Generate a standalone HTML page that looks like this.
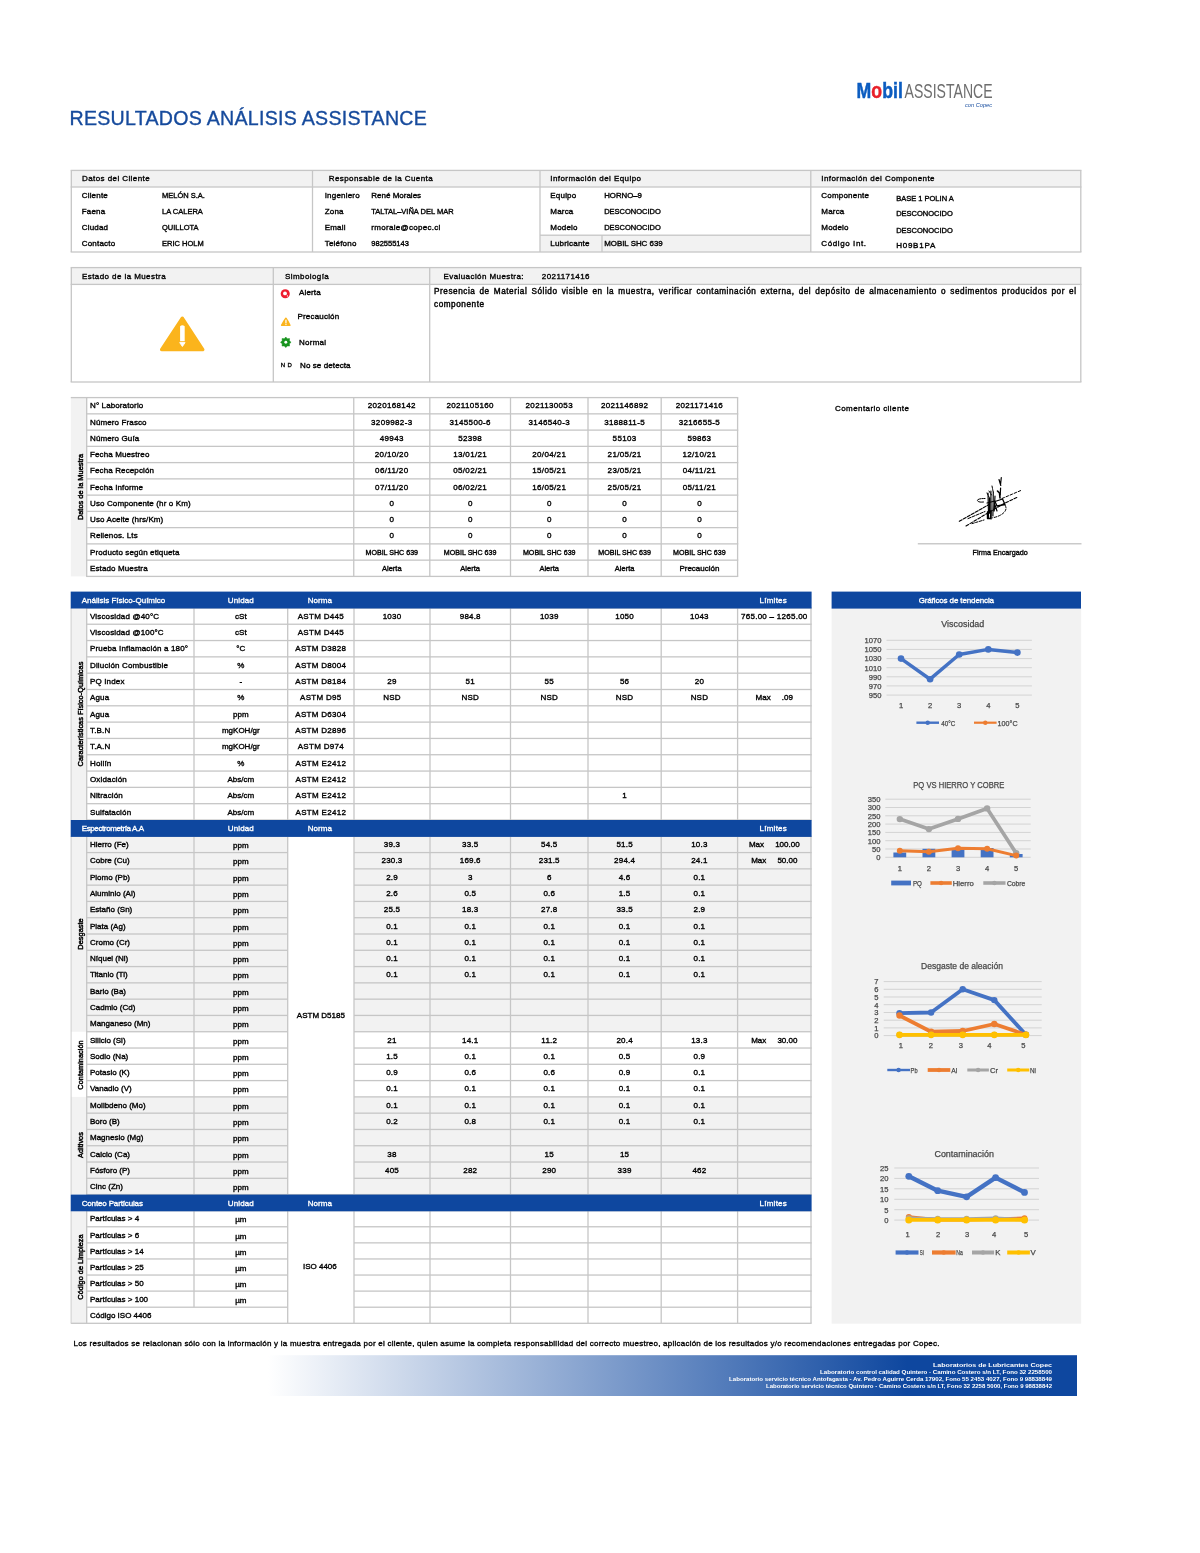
<!DOCTYPE html>
<html lang="es"><head><meta charset="utf-8"><title>Resultados Análisis Assistance</title>
<style>
html,body{margin:0;padding:0;background:#fff;}
body{width:1200px;height:1553px;position:relative;overflow:hidden;font-family:"Liberation Sans",sans-serif;color:#000;}
.a{position:absolute;}
.t{position:absolute;white-space:pre;font-size:8px;line-height:16px;height:16px;color:#000;-webkit-text-stroke:0.36px #000;}
.b{letter-spacing:0.42px;-webkit-text-stroke:0.34px #000;}
.h{letter-spacing:0.42px;-webkit-text-stroke:0.34px #000;}
.w{color:#fff;-webkit-text-stroke:0.34px #fff;}
.v{width:200px;text-align:center;transform:rotate(-90deg);font-size:7.4px;letter-spacing:0;-webkit-text-stroke:0.45px #000;}
.l{letter-spacing:0.2px;}
.g{color:#595959;-webkit-text-stroke:0;}
svg{position:absolute;overflow:visible;}
</style></head><body><div id="pg" style="position:absolute;left:0;top:0;width:1200px;height:1553px;will-change:transform;">

<svg style="left:0;top:0" width="1200" height="1553" viewBox="0 0 1200 1553" shape-rendering="geometricPrecision"><rect x="71.30" y="170.40" width="1009.50" height="16.60" fill="#f2f2f2"/><rect x="540.00" y="235.20" width="270.80" height="16.80" fill="#f2f2f2"/><rect x="70.65" y="169.75" width="1010.80" height="1.30" fill="#c6c6c6"/><rect x="70.65" y="186.35" width="1010.80" height="1.30" fill="#c6c6c6"/><rect x="70.65" y="251.35" width="1010.80" height="1.30" fill="#c6c6c6"/><rect x="70.65" y="170.40" width="1.30" height="81.60" fill="#c6c6c6"/><rect x="311.85" y="170.40" width="1.30" height="81.60" fill="#c6c6c6"/><rect x="539.35" y="170.40" width="1.30" height="81.60" fill="#c6c6c6"/><rect x="810.15" y="170.40" width="1.30" height="81.60" fill="#c6c6c6"/><rect x="1080.15" y="170.40" width="1.30" height="81.60" fill="#c6c6c6"/><rect x="540.00" y="234.55" width="270.80" height="1.30" fill="#c6c6c6"/><rect x="601.35" y="235.20" width="1.30" height="16.80" fill="#c6c6c6"/><rect x="71.30" y="267.60" width="1009.50" height="16.80" fill="#f2f2f2"/><rect x="70.65" y="266.95" width="1010.80" height="1.30" fill="#c6c6c6"/><rect x="70.65" y="283.75" width="1010.80" height="1.30" fill="#c6c6c6"/><rect x="70.65" y="381.35" width="1010.80" height="1.30" fill="#c6c6c6"/><rect x="70.65" y="267.60" width="1.30" height="114.40" fill="#c6c6c6"/><rect x="272.65" y="267.60" width="1.30" height="114.40" fill="#c6c6c6"/><rect x="429.05" y="267.60" width="1.30" height="114.40" fill="#c6c6c6"/><rect x="1080.15" y="267.60" width="1.30" height="114.40" fill="#c6c6c6"/><rect x="70.80" y="397.60" width="15.90" height="178.80" fill="#f2f2f2"/><rect x="70.80" y="396.95" width="667.45" height="1.30" fill="#c6c6c6"/><rect x="86.05" y="413.20" width="652.20" height="1.30" fill="#c6c6c6"/><rect x="86.05" y="429.46" width="652.20" height="1.30" fill="#c6c6c6"/><rect x="86.05" y="445.71" width="652.20" height="1.30" fill="#c6c6c6"/><rect x="86.05" y="461.97" width="652.20" height="1.30" fill="#c6c6c6"/><rect x="86.05" y="478.22" width="652.20" height="1.30" fill="#c6c6c6"/><rect x="86.05" y="494.48" width="652.20" height="1.30" fill="#c6c6c6"/><rect x="86.05" y="510.73" width="652.20" height="1.30" fill="#c6c6c6"/><rect x="86.05" y="526.99" width="652.20" height="1.30" fill="#c6c6c6"/><rect x="86.05" y="543.24" width="652.20" height="1.30" fill="#c6c6c6"/><rect x="86.05" y="559.50" width="652.20" height="1.30" fill="#c6c6c6"/><rect x="86.05" y="575.75" width="652.20" height="1.30" fill="#c6c6c6"/><rect x="86.05" y="397.60" width="1.30" height="178.80" fill="#c6c6c6"/><rect x="353.10" y="397.60" width="1.30" height="178.80" fill="#c6c6c6"/><rect x="429.15" y="397.60" width="1.30" height="178.80" fill="#c6c6c6"/><rect x="509.85" y="397.60" width="1.30" height="178.80" fill="#c6c6c6"/><rect x="587.35" y="397.60" width="1.30" height="178.80" fill="#c6c6c6"/><rect x="660.55" y="397.60" width="1.30" height="178.80" fill="#c6c6c6"/><rect x="736.95" y="397.60" width="1.30" height="178.80" fill="#c6c6c6"/><rect x="917.80" y="543.20" width="163.70" height="1.20" fill="#bdbdbd"/><rect x="70.80" y="607.91" width="15.90" height="212.09" fill="#f2f2f2"/><rect x="70.80" y="836.29" width="740.20" height="195.44" fill="#f2f2f2"/><rect x="70.80" y="1096.88" width="740.20" height="97.72" fill="#f2f2f2"/><rect x="70.80" y="1210.69" width="15.90" height="112.61" fill="#f2f2f2"/><rect x="287.70" y="836.29" width="66.30" height="358.31" fill="#fff"/><rect x="86.05" y="607.26" width="725.60" height="1.30" fill="#c6c6c6"/><rect x="86.05" y="623.58" width="725.60" height="1.30" fill="#c6c6c6"/><rect x="86.05" y="639.89" width="725.60" height="1.30" fill="#c6c6c6"/><rect x="86.05" y="656.21" width="725.60" height="1.30" fill="#c6c6c6"/><rect x="86.05" y="672.52" width="725.60" height="1.30" fill="#c6c6c6"/><rect x="86.05" y="688.84" width="725.60" height="1.30" fill="#c6c6c6"/><rect x="86.05" y="705.15" width="725.60" height="1.30" fill="#c6c6c6"/><rect x="86.05" y="721.46" width="725.60" height="1.30" fill="#c6c6c6"/><rect x="86.05" y="737.78" width="725.60" height="1.30" fill="#c6c6c6"/><rect x="86.05" y="754.09" width="725.60" height="1.30" fill="#c6c6c6"/><rect x="86.05" y="770.41" width="725.60" height="1.30" fill="#c6c6c6"/><rect x="86.05" y="786.72" width="725.60" height="1.30" fill="#c6c6c6"/><rect x="86.05" y="803.04" width="725.60" height="1.30" fill="#c6c6c6"/><rect x="86.05" y="819.35" width="725.60" height="1.30" fill="#c6c6c6"/><rect x="86.05" y="835.64" width="725.60" height="1.30" fill="#c6c6c6"/><rect x="86.05" y="851.92" width="201.65" height="1.30" fill="#c6c6c6"/><rect x="354.00" y="851.92" width="457.65" height="1.30" fill="#c6c6c6"/><rect x="86.05" y="868.21" width="201.65" height="1.30" fill="#c6c6c6"/><rect x="354.00" y="868.21" width="457.65" height="1.30" fill="#c6c6c6"/><rect x="86.05" y="884.50" width="201.65" height="1.30" fill="#c6c6c6"/><rect x="354.00" y="884.50" width="457.65" height="1.30" fill="#c6c6c6"/><rect x="86.05" y="900.78" width="201.65" height="1.30" fill="#c6c6c6"/><rect x="354.00" y="900.78" width="457.65" height="1.30" fill="#c6c6c6"/><rect x="86.05" y="917.07" width="201.65" height="1.30" fill="#c6c6c6"/><rect x="354.00" y="917.07" width="457.65" height="1.30" fill="#c6c6c6"/><rect x="86.05" y="933.36" width="201.65" height="1.30" fill="#c6c6c6"/><rect x="354.00" y="933.36" width="457.65" height="1.30" fill="#c6c6c6"/><rect x="86.05" y="949.65" width="201.65" height="1.30" fill="#c6c6c6"/><rect x="354.00" y="949.65" width="457.65" height="1.30" fill="#c6c6c6"/><rect x="86.05" y="965.93" width="201.65" height="1.30" fill="#c6c6c6"/><rect x="354.00" y="965.93" width="457.65" height="1.30" fill="#c6c6c6"/><rect x="86.05" y="982.22" width="201.65" height="1.30" fill="#c6c6c6"/><rect x="354.00" y="982.22" width="457.65" height="1.30" fill="#c6c6c6"/><rect x="86.05" y="998.51" width="201.65" height="1.30" fill="#c6c6c6"/><rect x="354.00" y="998.51" width="457.65" height="1.30" fill="#c6c6c6"/><rect x="86.05" y="1014.79" width="201.65" height="1.30" fill="#c6c6c6"/><rect x="354.00" y="1014.79" width="457.65" height="1.30" fill="#c6c6c6"/><rect x="86.05" y="1031.08" width="201.65" height="1.30" fill="#c6c6c6"/><rect x="354.00" y="1031.08" width="457.65" height="1.30" fill="#c6c6c6"/><rect x="86.05" y="1047.37" width="201.65" height="1.30" fill="#c6c6c6"/><rect x="354.00" y="1047.37" width="457.65" height="1.30" fill="#c6c6c6"/><rect x="86.05" y="1063.65" width="201.65" height="1.30" fill="#c6c6c6"/><rect x="354.00" y="1063.65" width="457.65" height="1.30" fill="#c6c6c6"/><rect x="86.05" y="1079.94" width="201.65" height="1.30" fill="#c6c6c6"/><rect x="354.00" y="1079.94" width="457.65" height="1.30" fill="#c6c6c6"/><rect x="86.05" y="1096.23" width="201.65" height="1.30" fill="#c6c6c6"/><rect x="354.00" y="1096.23" width="457.65" height="1.30" fill="#c6c6c6"/><rect x="86.05" y="1112.52" width="201.65" height="1.30" fill="#c6c6c6"/><rect x="354.00" y="1112.52" width="457.65" height="1.30" fill="#c6c6c6"/><rect x="86.05" y="1128.80" width="201.65" height="1.30" fill="#c6c6c6"/><rect x="354.00" y="1128.80" width="457.65" height="1.30" fill="#c6c6c6"/><rect x="86.05" y="1145.09" width="201.65" height="1.30" fill="#c6c6c6"/><rect x="354.00" y="1145.09" width="457.65" height="1.30" fill="#c6c6c6"/><rect x="86.05" y="1161.38" width="201.65" height="1.30" fill="#c6c6c6"/><rect x="354.00" y="1161.38" width="457.65" height="1.30" fill="#c6c6c6"/><rect x="86.05" y="1177.66" width="201.65" height="1.30" fill="#c6c6c6"/><rect x="354.00" y="1177.66" width="457.65" height="1.30" fill="#c6c6c6"/><rect x="86.05" y="1193.95" width="725.60" height="1.30" fill="#c6c6c6"/><rect x="86.05" y="1210.04" width="725.60" height="1.30" fill="#c6c6c6"/><rect x="86.05" y="1226.12" width="201.65" height="1.30" fill="#c6c6c6"/><rect x="354.00" y="1226.12" width="457.65" height="1.30" fill="#c6c6c6"/><rect x="86.05" y="1242.21" width="201.65" height="1.30" fill="#c6c6c6"/><rect x="354.00" y="1242.21" width="457.65" height="1.30" fill="#c6c6c6"/><rect x="86.05" y="1258.30" width="201.65" height="1.30" fill="#c6c6c6"/><rect x="354.00" y="1258.30" width="457.65" height="1.30" fill="#c6c6c6"/><rect x="86.05" y="1274.39" width="201.65" height="1.30" fill="#c6c6c6"/><rect x="354.00" y="1274.39" width="457.65" height="1.30" fill="#c6c6c6"/><rect x="86.05" y="1290.47" width="201.65" height="1.30" fill="#c6c6c6"/><rect x="354.00" y="1290.47" width="457.65" height="1.30" fill="#c6c6c6"/><rect x="86.05" y="1306.56" width="201.65" height="1.30" fill="#c6c6c6"/><rect x="354.00" y="1306.56" width="457.65" height="1.30" fill="#c6c6c6"/><rect x="70.80" y="1322.65" width="740.85" height="1.30" fill="#c6c6c6"/><rect x="70.60" y="607.91" width="1.00" height="212.09" fill="#cfcfcf"/><rect x="86.05" y="607.91" width="1.30" height="212.09" fill="#c6c6c6"/><rect x="193.35" y="607.91" width="1.30" height="212.09" fill="#c6c6c6"/><rect x="287.05" y="607.91" width="1.30" height="212.09" fill="#c6c6c6"/><rect x="353.35" y="607.91" width="1.30" height="212.09" fill="#c6c6c6"/><rect x="429.35" y="607.91" width="1.30" height="212.09" fill="#c6c6c6"/><rect x="509.85" y="607.91" width="1.30" height="212.09" fill="#c6c6c6"/><rect x="587.35" y="607.91" width="1.30" height="212.09" fill="#c6c6c6"/><rect x="660.55" y="607.91" width="1.30" height="212.09" fill="#c6c6c6"/><rect x="736.95" y="607.91" width="1.30" height="212.09" fill="#c6c6c6"/><rect x="810.35" y="607.91" width="1.30" height="212.09" fill="#c6c6c6"/><rect x="70.60" y="836.29" width="1.00" height="358.31" fill="#cfcfcf"/><rect x="86.05" y="836.29" width="1.30" height="358.31" fill="#c6c6c6"/><rect x="193.35" y="836.29" width="1.30" height="358.31" fill="#c6c6c6"/><rect x="287.05" y="836.29" width="1.30" height="358.31" fill="#c6c6c6"/><rect x="353.35" y="836.29" width="1.30" height="358.31" fill="#c6c6c6"/><rect x="429.35" y="836.29" width="1.30" height="358.31" fill="#c6c6c6"/><rect x="509.85" y="836.29" width="1.30" height="358.31" fill="#c6c6c6"/><rect x="587.35" y="836.29" width="1.30" height="358.31" fill="#c6c6c6"/><rect x="660.55" y="836.29" width="1.30" height="358.31" fill="#c6c6c6"/><rect x="736.95" y="836.29" width="1.30" height="358.31" fill="#c6c6c6"/><rect x="810.35" y="836.29" width="1.30" height="358.31" fill="#c6c6c6"/><rect x="70.60" y="1210.69" width="1.00" height="112.61" fill="#cfcfcf"/><rect x="86.05" y="1210.69" width="1.30" height="112.61" fill="#c6c6c6"/><rect x="193.35" y="1210.69" width="1.30" height="96.52" fill="#c6c6c6"/><rect x="287.05" y="1210.69" width="1.30" height="112.61" fill="#c6c6c6"/><rect x="353.35" y="1210.69" width="1.30" height="112.61" fill="#c6c6c6"/><rect x="429.35" y="1210.69" width="1.30" height="112.61" fill="#c6c6c6"/><rect x="509.85" y="1210.69" width="1.30" height="112.61" fill="#c6c6c6"/><rect x="587.35" y="1210.69" width="1.30" height="112.61" fill="#c6c6c6"/><rect x="660.55" y="1210.69" width="1.30" height="112.61" fill="#c6c6c6"/><rect x="736.95" y="1210.69" width="1.30" height="112.61" fill="#c6c6c6"/><rect x="810.35" y="1210.69" width="1.30" height="112.61" fill="#c6c6c6"/><rect x="70.70" y="591.60" width="740.90" height="16.91" fill="#0e479f"/><rect x="70.70" y="820.00" width="740.90" height="16.89" fill="#0e479f"/><rect x="70.70" y="1194.60" width="740.90" height="16.69" fill="#0e479f"/><rect x="831.60" y="608.00" width="249.60" height="715.70" fill="#f2f2f2"/><rect x="831.60" y="591.60" width="249.40" height="17.00" fill="#0e479f"/><defs><linearGradient id="fg" x1="0" x2="1" y1="0" y2="0"><stop offset="0" stop-color="#fff"/><stop offset="0.79" stop-color="#0e479f"/><stop offset="1" stop-color="#0e479f"/></linearGradient></defs><rect x="268" y="1355.2" width="809" height="40.8" fill="url(#fg)"/></svg>
<div class="a" style="left:69.5px;top:105.1px;font-size:19.6px;line-height:26px;color:#164a9c;white-space:pre;letter-spacing:0.27px;-webkit-text-stroke:0.35px #164a9c;" id="title">RESULTADOS ANÁLISIS ASSISTANCE</div>
<svg style="left:850px;top:76px" width="160" height="40" viewBox="0 0 160 40">
<text x="6.6" y="22.3" font-family="Liberation Sans, sans-serif" font-weight="bold" font-size="22.5" fill="#0b5cc0" textLength="46.2" lengthAdjust="spacingAndGlyphs" stroke="#0b5cc0" stroke-width="0.5">M<tspan fill="#e8202a" stroke="#e8202a">o</tspan>bil</text>
<text x="54.6" y="22" font-family="Liberation Sans, sans-serif" font-size="19.4" fill="#6e6e6e" textLength="88" lengthAdjust="spacingAndGlyphs">ASSISTANCE</text>
<text x="115" y="30.5" font-family="Liberation Sans, sans-serif" font-style="italic" font-size="5.5" fill="#1a4fa0" textLength="27" lengthAdjust="spacingAndGlyphs">con Copec</text>
</svg>
<div class="t h" style="left:82.00px;top:171.30px;">Datos del Cliente</div>
<div class="t h" style="left:328.70px;top:171.30px;">Responsable de la Cuenta</div>
<div class="t h" style="left:550.30px;top:171.30px;">Información del Equipo</div>
<div class="t h" style="left:821.30px;top:171.30px;">Información del Componente</div>
<div class="t l" style="left:81.70px;top:188.00px;">Cliente</div>
<div class="t " style="left:162.00px;top:188.00px;font-size:7.5px;">MELÓN S.A.</div>
<div class="t l" style="left:81.70px;top:203.70px;">Faena</div>
<div class="t " style="left:162.00px;top:203.70px;font-size:7.5px;">LA CALERA</div>
<div class="t l" style="left:81.70px;top:220.10px;">Ciudad</div>
<div class="t " style="left:162.00px;top:220.10px;font-size:7.5px;">QUILLOTA</div>
<div class="t l" style="left:81.70px;top:235.70px;">Contacto</div>
<div class="t " style="left:162.00px;top:235.70px;font-size:7.5px;">ERIC HOLM</div>
<div class="t l" style="left:324.70px;top:188.00px;">Ingeniero</div>
<div class="t " style="left:371.30px;top:188.00px;">René Morales</div>
<div class="t l" style="left:324.70px;top:203.70px;">Zona</div>
<div class="t " style="left:371.30px;top:203.70px;font-size:7.5px;">TALTAL–VIÑA DEL MAR</div>
<div class="t l" style="left:324.70px;top:220.10px;">Email</div>
<div class="t " style="left:371.30px;top:220.10px;letter-spacing:0.3px;">rmorale@copec.cl</div>
<div class="t l" style="left:324.70px;top:235.70px;">Teléfono</div>
<div class="t " style="left:371.30px;top:235.70px;font-size:7.5px;">982555143</div>
<div class="t l" style="left:550.30px;top:188.00px;">Equipo</div>
<div class="t " style="left:604.20px;top:188.00px;font-size:7.8px;">HORNO–9</div>
<div class="t l" style="left:550.30px;top:203.70px;">Marca</div>
<div class="t " style="left:604.20px;top:203.70px;font-size:7.5px;">DESCONOCIDO</div>
<div class="t l" style="left:550.30px;top:220.10px;">Modelo</div>
<div class="t " style="left:604.20px;top:220.10px;font-size:7.5px;">DESCONOCIDO</div>
<div class="t l" style="left:550.30px;top:235.70px;">Lubricante</div>
<div class="t " style="left:604.20px;top:235.70px;font-size:7.9px;">MOBIL SHC 639</div>
<div class="t l" style="left:821.30px;top:188.00px;">Componente</div>
<div class="t " style="left:896.20px;top:190.70px;font-size:7.5px;">BASE 1 POLIN A</div>
<div class="t l" style="left:821.30px;top:203.70px;">Marca</div>
<div class="t " style="left:896.20px;top:206.40px;font-size:7.5px;">DESCONOCIDO</div>
<div class="t l" style="left:821.30px;top:220.10px;">Modelo</div>
<div class="t " style="left:896.20px;top:222.80px;font-size:7.5px;">DESCONOCIDO</div>
<div class="t l" style="left:821.30px;top:235.70px;letter-spacing:0.6px;">Código Int.</div>
<div class="t " style="left:896.20px;top:238.40px;letter-spacing:0.75px;">H09B1PA</div>
<div class="t h" style="left:82.00px;top:268.70px;">Estado de la Muestra</div>
<div class="t h" style="left:285.00px;top:268.70px;">Simbología</div>
<div class="t h" style="left:443.50px;top:268.70px;">Evaluación Muestra:</div>
<div class="t h" style="left:541.80px;top:268.70px;">2021171416</div>
<svg style="left:155px;top:312px" width="56" height="44" viewBox="0 0 56 44">
<path d="M27.3 6.2 L47.8 37.6 L6.6 37.6 Z" fill="#fbb41c" stroke="#fbb41c" stroke-width="3.4" stroke-linejoin="round"/>
<path d="M25.1 14.3 q2.2 -2.2 4.6 0 l0 15 l-4.6 0 Z" fill="#fff"/>
<path d="M24.7 30.6 l5.4 0 l-2.7 3.9 Z" fill="#fff" stroke="#fff" stroke-width="0.9" stroke-linejoin="round"/>
</svg>
<svg style="left:279px;top:288px" width="14" height="12" viewBox="0 0 14 12">
<circle cx="6.25" cy="5.8" r="4.55" fill="#ee1c2e"/>
<circle cx="6.0" cy="5.4" r="1.9" fill="#fff"/>
<circle cx="8.4" cy="7.9" r="0.65" fill="#fff"/>
</svg>
<svg style="left:279px;top:316px" width="14" height="12" viewBox="0 0 14 12">
<path d="M6.9 2.3 Q8.6 4.6 10.9 9.3 L2.6 9.3 Q5.2 4.6 6.9 2.3 Z" fill="#fbb41c" stroke="#fbb41c" stroke-width="1.5" stroke-linejoin="round"/>
<rect x="6.35" y="3.7" width="1.2" height="3.7" fill="#fff"/><rect x="6.35" y="8.1" width="1.2" height="1.0" fill="#fff"/>
</svg>
<svg style="left:279px;top:336px" width="14" height="14" viewBox="0 0 14 14">
<polygon points="6.80,1.00 8.29,2.70 10.55,2.55 10.40,4.81 12.10,6.30 10.40,7.79 10.55,10.05 8.29,9.90 6.80,11.60 5.31,9.90 3.05,10.05 3.20,7.79 1.50,6.30 3.20,4.81 3.05,2.55 5.31,2.70" fill="#18941f" stroke="#18941f" stroke-width="0.5" stroke-linejoin="round"/>
<circle cx="6.8" cy="6.2" r="1.45" fill="#fff"/>
</svg>
<div class="t " style="left:280.80px;top:357.30px;font-size:6px;letter-spacing:2.3px;-webkit-text-stroke:0.3px #000;">ND</div>
<div class="t " style="left:299.00px;top:285.40px;letter-spacing:0.15px;">Alerta</div>
<div class="t " style="left:297.40px;top:308.90px;letter-spacing:0.2px;">Precaución</div>
<div class="t " style="left:299.00px;top:334.70px;letter-spacing:0.25px;">Normal</div>
<div class="t " style="left:300.00px;top:358.30px;letter-spacing:0.1px;">No se detecta</div>
<div class="t" style="left:434px;top:283.6px;width:642.6px;white-space:normal;text-align:justify;text-align-last:justify;font-size:8.2px;letter-spacing:0.55px;-webkit-text-stroke:0.4px #000;">Presencia de Material Sólido visible en la muestra, verificar contaminación externa, del depósito de almacenamiento o sedimentos producidos por el</div>
<div class="t " style="left:434.00px;top:296.70px;font-size:8.2px;letter-spacing:0.55px;-webkit-text-stroke:0.4px #000;">componente</div>
<div class="t v " style="left:-19.20px;top:479.00px;">Datos de la Muestra</div>
<div class="t " style="left:90.00px;top:398.43px;letter-spacing:0.12px;">N° Laboratorio</div>
<div class="t " style="left:191.77px;width:400px;text-align:center;top:398.43px;letter-spacing:0.35px;">2020168142</div>
<div class="t " style="left:270.15px;width:400px;text-align:center;top:398.43px;letter-spacing:0.35px;">2021105160</div>
<div class="t " style="left:349.25px;width:400px;text-align:center;top:398.43px;letter-spacing:0.35px;">2021130053</div>
<div class="t " style="left:424.60px;width:400px;text-align:center;top:398.43px;letter-spacing:0.35px;">2021146892</div>
<div class="t " style="left:499.40px;width:400px;text-align:center;top:398.43px;letter-spacing:0.35px;">2021171416</div>
<div class="t " style="left:90.00px;top:414.68px;letter-spacing:0.12px;">Número Frasco</div>
<div class="t " style="left:191.77px;width:400px;text-align:center;top:414.68px;letter-spacing:0.35px;">3209982-3</div>
<div class="t " style="left:270.15px;width:400px;text-align:center;top:414.68px;letter-spacing:0.35px;">3145500-6</div>
<div class="t " style="left:349.25px;width:400px;text-align:center;top:414.68px;letter-spacing:0.35px;">3146540-3</div>
<div class="t " style="left:424.60px;width:400px;text-align:center;top:414.68px;letter-spacing:0.35px;">3188811-5</div>
<div class="t " style="left:499.40px;width:400px;text-align:center;top:414.68px;letter-spacing:0.35px;">3216655-5</div>
<div class="t " style="left:90.00px;top:430.94px;letter-spacing:0.12px;">Número Guía</div>
<div class="t " style="left:191.77px;width:400px;text-align:center;top:430.94px;letter-spacing:0.35px;">49943</div>
<div class="t " style="left:270.15px;width:400px;text-align:center;top:430.94px;letter-spacing:0.35px;">52398</div>
<div class="t " style="left:424.60px;width:400px;text-align:center;top:430.94px;letter-spacing:0.35px;">55103</div>
<div class="t " style="left:499.40px;width:400px;text-align:center;top:430.94px;letter-spacing:0.35px;">59863</div>
<div class="t " style="left:90.00px;top:447.19px;letter-spacing:0.12px;">Fecha Muestreo</div>
<div class="t " style="left:191.77px;width:400px;text-align:center;top:447.19px;letter-spacing:0.35px;">20/10/20</div>
<div class="t " style="left:270.15px;width:400px;text-align:center;top:447.19px;letter-spacing:0.35px;">13/01/21</div>
<div class="t " style="left:349.25px;width:400px;text-align:center;top:447.19px;letter-spacing:0.35px;">20/04/21</div>
<div class="t " style="left:424.60px;width:400px;text-align:center;top:447.19px;letter-spacing:0.35px;">21/05/21</div>
<div class="t " style="left:499.40px;width:400px;text-align:center;top:447.19px;letter-spacing:0.35px;">12/10/21</div>
<div class="t " style="left:90.00px;top:463.45px;letter-spacing:0.12px;">Fecha Recepción</div>
<div class="t " style="left:191.77px;width:400px;text-align:center;top:463.45px;letter-spacing:0.35px;">06/11/20</div>
<div class="t " style="left:270.15px;width:400px;text-align:center;top:463.45px;letter-spacing:0.35px;">05/02/21</div>
<div class="t " style="left:349.25px;width:400px;text-align:center;top:463.45px;letter-spacing:0.35px;">15/05/21</div>
<div class="t " style="left:424.60px;width:400px;text-align:center;top:463.45px;letter-spacing:0.35px;">23/05/21</div>
<div class="t " style="left:499.40px;width:400px;text-align:center;top:463.45px;letter-spacing:0.35px;">04/11/21</div>
<div class="t " style="left:90.00px;top:479.70px;letter-spacing:0.12px;">Fecha Informe</div>
<div class="t " style="left:191.77px;width:400px;text-align:center;top:479.70px;letter-spacing:0.35px;">07/11/20</div>
<div class="t " style="left:270.15px;width:400px;text-align:center;top:479.70px;letter-spacing:0.35px;">06/02/21</div>
<div class="t " style="left:349.25px;width:400px;text-align:center;top:479.70px;letter-spacing:0.35px;">16/05/21</div>
<div class="t " style="left:424.60px;width:400px;text-align:center;top:479.70px;letter-spacing:0.35px;">25/05/21</div>
<div class="t " style="left:499.40px;width:400px;text-align:center;top:479.70px;letter-spacing:0.35px;">05/11/21</div>
<div class="t " style="left:90.00px;top:495.95px;letter-spacing:0.12px;">Uso Componente (hr o Km)</div>
<div class="t " style="left:191.77px;width:400px;text-align:center;top:495.95px;">0</div>
<div class="t " style="left:270.15px;width:400px;text-align:center;top:495.95px;">0</div>
<div class="t " style="left:349.25px;width:400px;text-align:center;top:495.95px;">0</div>
<div class="t " style="left:424.60px;width:400px;text-align:center;top:495.95px;">0</div>
<div class="t " style="left:499.40px;width:400px;text-align:center;top:495.95px;">0</div>
<div class="t " style="left:90.00px;top:512.21px;letter-spacing:0.12px;">Uso Aceite (hrs/Km)</div>
<div class="t " style="left:191.77px;width:400px;text-align:center;top:512.21px;">0</div>
<div class="t " style="left:270.15px;width:400px;text-align:center;top:512.21px;">0</div>
<div class="t " style="left:349.25px;width:400px;text-align:center;top:512.21px;">0</div>
<div class="t " style="left:424.60px;width:400px;text-align:center;top:512.21px;">0</div>
<div class="t " style="left:499.40px;width:400px;text-align:center;top:512.21px;">0</div>
<div class="t " style="left:90.00px;top:528.46px;letter-spacing:0.12px;">Rellenos. Lts</div>
<div class="t " style="left:191.77px;width:400px;text-align:center;top:528.46px;">0</div>
<div class="t " style="left:270.15px;width:400px;text-align:center;top:528.46px;">0</div>
<div class="t " style="left:349.25px;width:400px;text-align:center;top:528.46px;">0</div>
<div class="t " style="left:424.60px;width:400px;text-align:center;top:528.46px;">0</div>
<div class="t " style="left:499.40px;width:400px;text-align:center;top:528.46px;">0</div>
<div class="t " style="left:90.00px;top:544.72px;letter-spacing:0.12px;">Producto según etiqueta</div>
<div class="t " style="left:191.77px;width:400px;text-align:center;top:544.72px;font-size:7.1px;">MOBIL SHC 639</div>
<div class="t " style="left:270.15px;width:400px;text-align:center;top:544.72px;font-size:7.1px;">MOBIL SHC 639</div>
<div class="t " style="left:349.25px;width:400px;text-align:center;top:544.72px;font-size:7.1px;">MOBIL SHC 639</div>
<div class="t " style="left:424.60px;width:400px;text-align:center;top:544.72px;font-size:7.1px;">MOBIL SHC 639</div>
<div class="t " style="left:499.40px;width:400px;text-align:center;top:544.72px;font-size:7.1px;">MOBIL SHC 639</div>
<div class="t " style="left:90.00px;top:560.97px;letter-spacing:0.12px;">Estado Muestra</div>
<div class="t " style="left:191.77px;width:400px;text-align:center;top:560.97px;font-size:7.5px;">Alerta</div>
<div class="t " style="left:270.15px;width:400px;text-align:center;top:560.97px;font-size:7.5px;">Alerta</div>
<div class="t " style="left:349.25px;width:400px;text-align:center;top:560.97px;font-size:7.5px;">Alerta</div>
<div class="t " style="left:424.60px;width:400px;text-align:center;top:560.97px;font-size:7.5px;">Alerta</div>
<div class="t " style="left:499.40px;width:400px;text-align:center;top:560.97px;">Precaución</div>
<div class="t b" style="left:835.00px;top:401.10px;">Comentario cliente</div>
<svg style="left:945px;top:465px" width="90" height="70" viewBox="0 0 90 70">
<g fill="none" stroke="#000" stroke-width="1.0" stroke-linecap="round" stroke-linejoin="round">
<path d="M14.3 56.3 L44 39.5" stroke-dasharray="3.2 1.4" stroke-width="1.1"/>
<path d="M57 33.5 L77 25" stroke-dasharray="2.6 1.8"/>
<path d="M21 61 L42 48.5 L59 38.5 L73 32" stroke-dasharray="3 1.6" stroke-width="1.1"/>
<path d="M23 53.6 L40 46.5" stroke-dasharray="3 1.3"/>
<path d="M27 58.6 L39 55" stroke-dasharray="2.4 1.4"/>
<path d="M40 33.5 q-8 0 -7.5 2.2 q0.6 2 7 1.2" stroke-dasharray="3 1"/>
<path d="M43.0 28 L43.6 53 M45.9 26 L46.1 54 M48.3 27 L47.9 51 M50 31 L49.2 46" stroke-width="1.15"/>
<path d="M44.6 33 L44.7 48" stroke-width="1.7"/>
<path d="M47 21 L48.4 28 M44 26 L46.5 30 M42 28 L44 32" stroke-dasharray="2.4 1.2"/>
<path d="M54 14.5 L55.8 20.5 M56.3 12.5 L55.6 19 M55.6 23 L55.2 30" stroke-width="1.2"/>
<path d="M52.5 26 L54.5 28 L55 33" stroke-width="1.6"/>
<path d="M50 36.5 L57.5 34 L60 39.5 L52 41 Z" stroke-width="1.3"/>
<path d="M60 40 q2.5 4 -1 7.5 q-4 4 -12 5.4" stroke-dasharray="2.6 1.6"/>
<path d="M42.5 47 L46 46 L45.5 53.5 L42.5 53.5 Z" stroke-width="1.4"/>
<path d="M50 40 L52 46 M42 38 L50 36" stroke-width="1.2"/>
</g></svg>
<div class="t " style="left:800.10px;width:400px;text-align:center;top:545.10px;font-size:7.2px;-webkit-text-stroke:0.34px #000;">Firma Encargado</div>
<div class="t w" style="left:40.85px;width:400px;text-align:center;top:592.86px;letter-spacing:0.1px;">Unidad</div>
<div class="t w" style="left:119.85px;width:400px;text-align:center;top:592.86px;">Norma</div>
<div class="t w" style="left:573.30px;width:400px;text-align:center;top:592.86px;letter-spacing:0.23px;">Límites</div>
<div class="t w" style="left:40.85px;width:400px;text-align:center;top:821.24px;letter-spacing:0.1px;">Unidad</div>
<div class="t w" style="left:119.85px;width:400px;text-align:center;top:821.24px;">Norma</div>
<div class="t w" style="left:573.30px;width:400px;text-align:center;top:821.24px;letter-spacing:0.23px;">Límites</div>
<div class="t w" style="left:40.85px;width:400px;text-align:center;top:1195.74px;letter-spacing:0.1px;">Unidad</div>
<div class="t w" style="left:119.85px;width:400px;text-align:center;top:1195.74px;">Norma</div>
<div class="t w" style="left:573.30px;width:400px;text-align:center;top:1195.74px;letter-spacing:0.23px;">Límites</div>
<div class="t w" style="left:81.70px;top:592.96px;">Análisis Físico-Químico</div>
<div class="t w" style="left:81.70px;top:821.14px;letter-spacing:-0.38px;">Espectrometría A.A</div>
<div class="t w" style="left:81.70px;top:1195.64px;letter-spacing:-0.15px;">Conteo Partículas</div>
<div class="t v " style="left:-19.20px;top:706.36px;">Características Físico-Químicas</div>
<div class="t v " style="left:-19.20px;top:926.01px;">Desgaste</div>
<div class="t v " style="left:-19.20px;top:1057.10px;">Contaminación</div>
<div class="t v " style="left:-19.20px;top:1136.74px;">Aditivos</div>
<div class="t v " style="left:-19.20px;top:1258.99px;">Código de Limpieza</div>
<div class="t " style="left:90.00px;top:608.77px;letter-spacing:0.15px;">Viscosidad @40°C</div>
<div class="t " style="left:40.85px;width:400px;text-align:center;top:608.77px;">cSt</div>
<div class="t " style="left:120.85px;width:400px;text-align:center;top:608.77px;letter-spacing:0.3px;">ASTM D445</div>
<div class="t " style="left:192.00px;width:400px;text-align:center;top:608.77px;letter-spacing:0.2px;">1030</div>
<div class="t " style="left:270.25px;width:400px;text-align:center;top:608.77px;letter-spacing:0.2px;">984.8</div>
<div class="t " style="left:349.25px;width:400px;text-align:center;top:608.77px;letter-spacing:0.2px;">1039</div>
<div class="t " style="left:424.60px;width:400px;text-align:center;top:608.77px;letter-spacing:0.2px;">1050</div>
<div class="t " style="left:499.40px;width:400px;text-align:center;top:608.77px;letter-spacing:0.2px;">1043</div>
<div class="t " style="left:574.30px;width:400px;text-align:center;top:608.77px;letter-spacing:0.27px;">765.00 – 1265.00</div>
<div class="t " style="left:90.00px;top:625.09px;letter-spacing:0.15px;">Viscosidad @100°C</div>
<div class="t " style="left:40.85px;width:400px;text-align:center;top:625.09px;">cSt</div>
<div class="t " style="left:120.85px;width:400px;text-align:center;top:625.09px;letter-spacing:0.3px;">ASTM D445</div>
<div class="t " style="left:90.00px;top:641.40px;letter-spacing:0.15px;">Prueba Inflamación a 180°</div>
<div class="t " style="left:40.85px;width:400px;text-align:center;top:641.40px;">°C</div>
<div class="t " style="left:120.85px;width:400px;text-align:center;top:641.40px;letter-spacing:0.3px;">ASTM D3828</div>
<div class="t " style="left:90.00px;top:657.71px;letter-spacing:0.15px;">Dilución Combustible</div>
<div class="t " style="left:40.85px;width:400px;text-align:center;top:657.71px;">%</div>
<div class="t " style="left:120.85px;width:400px;text-align:center;top:657.71px;letter-spacing:0.3px;">ASTM D8004</div>
<div class="t " style="left:90.00px;top:674.03px;letter-spacing:0.15px;">PQ Index</div>
<div class="t " style="left:40.85px;width:400px;text-align:center;top:674.03px;">-</div>
<div class="t " style="left:120.85px;width:400px;text-align:center;top:674.03px;letter-spacing:0.3px;">ASTM D8184</div>
<div class="t " style="left:192.00px;width:400px;text-align:center;top:674.03px;letter-spacing:0.2px;">29</div>
<div class="t " style="left:270.25px;width:400px;text-align:center;top:674.03px;letter-spacing:0.2px;">51</div>
<div class="t " style="left:349.25px;width:400px;text-align:center;top:674.03px;letter-spacing:0.2px;">55</div>
<div class="t " style="left:424.60px;width:400px;text-align:center;top:674.03px;letter-spacing:0.2px;">56</div>
<div class="t " style="left:499.40px;width:400px;text-align:center;top:674.03px;letter-spacing:0.2px;">20</div>
<div class="t " style="left:90.00px;top:690.34px;letter-spacing:0.15px;">Agua</div>
<div class="t " style="left:40.85px;width:400px;text-align:center;top:690.34px;">%</div>
<div class="t " style="left:120.85px;width:400px;text-align:center;top:690.34px;letter-spacing:0.3px;">ASTM D95</div>
<div class="t " style="left:192.00px;width:400px;text-align:center;top:690.34px;letter-spacing:0.2px;">NSD</div>
<div class="t " style="left:270.25px;width:400px;text-align:center;top:690.34px;letter-spacing:0.2px;">NSD</div>
<div class="t " style="left:349.25px;width:400px;text-align:center;top:690.34px;letter-spacing:0.2px;">NSD</div>
<div class="t " style="left:424.60px;width:400px;text-align:center;top:690.34px;letter-spacing:0.2px;">NSD</div>
<div class="t " style="left:499.40px;width:400px;text-align:center;top:690.34px;letter-spacing:0.2px;">NSD</div>
<div class="t " style="left:574.30px;width:400px;text-align:center;top:690.34px;">Max     .09</div>
<div class="t " style="left:90.00px;top:706.66px;letter-spacing:0.15px;">Agua</div>
<div class="t " style="left:40.85px;width:400px;text-align:center;top:706.66px;">ppm</div>
<div class="t " style="left:120.85px;width:400px;text-align:center;top:706.66px;letter-spacing:0.3px;">ASTM D6304</div>
<div class="t " style="left:90.00px;top:722.97px;letter-spacing:0.15px;">T.B.N</div>
<div class="t " style="left:40.85px;width:400px;text-align:center;top:722.97px;">mgKOH/gr</div>
<div class="t " style="left:120.85px;width:400px;text-align:center;top:722.97px;letter-spacing:0.3px;">ASTM D2896</div>
<div class="t " style="left:90.00px;top:739.29px;letter-spacing:0.15px;">T.A.N</div>
<div class="t " style="left:40.85px;width:400px;text-align:center;top:739.29px;">mgKOH/gr</div>
<div class="t " style="left:120.85px;width:400px;text-align:center;top:739.29px;letter-spacing:0.3px;">ASTM D974</div>
<div class="t " style="left:90.00px;top:755.60px;letter-spacing:0.15px;">Hollín</div>
<div class="t " style="left:40.85px;width:400px;text-align:center;top:755.60px;">%</div>
<div class="t " style="left:120.85px;width:400px;text-align:center;top:755.60px;letter-spacing:0.3px;">ASTM E2412</div>
<div class="t " style="left:90.00px;top:771.91px;letter-spacing:0.15px;">Oxidación</div>
<div class="t " style="left:40.85px;width:400px;text-align:center;top:771.91px;">Abs/cm</div>
<div class="t " style="left:120.85px;width:400px;text-align:center;top:771.91px;letter-spacing:0.3px;">ASTM E2412</div>
<div class="t " style="left:90.00px;top:788.23px;letter-spacing:0.15px;">Nitración</div>
<div class="t " style="left:40.85px;width:400px;text-align:center;top:788.23px;">Abs/cm</div>
<div class="t " style="left:120.85px;width:400px;text-align:center;top:788.23px;letter-spacing:0.3px;">ASTM E2412</div>
<div class="t " style="left:424.60px;width:400px;text-align:center;top:788.23px;letter-spacing:0.2px;">1</div>
<div class="t " style="left:90.00px;top:804.54px;letter-spacing:0.15px;">Sulfatación</div>
<div class="t " style="left:40.85px;width:400px;text-align:center;top:804.54px;">Abs/cm</div>
<div class="t " style="left:120.85px;width:400px;text-align:center;top:804.54px;letter-spacing:0.3px;">ASTM E2412</div>
<div class="t " style="left:90.00px;top:837.13px;">Hierro (Fe)</div>
<div class="t " style="left:40.85px;width:400px;text-align:center;top:838.13px;">ppm</div>
<div class="t " style="left:192.00px;width:400px;text-align:center;top:837.13px;letter-spacing:0.2px;">39.3</div>
<div class="t " style="left:270.25px;width:400px;text-align:center;top:837.13px;letter-spacing:0.2px;">33.5</div>
<div class="t " style="left:349.25px;width:400px;text-align:center;top:837.13px;letter-spacing:0.2px;">54.5</div>
<div class="t " style="left:424.60px;width:400px;text-align:center;top:837.13px;letter-spacing:0.2px;">51.5</div>
<div class="t " style="left:499.40px;width:400px;text-align:center;top:837.13px;letter-spacing:0.2px;">10.3</div>
<div class="t " style="left:574.30px;width:400px;text-align:center;top:837.13px;">Max     100.00</div>
<div class="t " style="left:90.00px;top:853.42px;">Cobre (Cu)</div>
<div class="t " style="left:40.85px;width:400px;text-align:center;top:854.42px;">ppm</div>
<div class="t " style="left:192.00px;width:400px;text-align:center;top:853.42px;letter-spacing:0.2px;">230.3</div>
<div class="t " style="left:270.25px;width:400px;text-align:center;top:853.42px;letter-spacing:0.2px;">169.6</div>
<div class="t " style="left:349.25px;width:400px;text-align:center;top:853.42px;letter-spacing:0.2px;">231.5</div>
<div class="t " style="left:424.60px;width:400px;text-align:center;top:853.42px;letter-spacing:0.2px;">294.4</div>
<div class="t " style="left:499.40px;width:400px;text-align:center;top:853.42px;letter-spacing:0.2px;">24.1</div>
<div class="t " style="left:574.30px;width:400px;text-align:center;top:853.42px;">Max     50.00</div>
<div class="t " style="left:90.00px;top:869.70px;">Plomo (Pb)</div>
<div class="t " style="left:40.85px;width:400px;text-align:center;top:870.70px;">ppm</div>
<div class="t " style="left:192.00px;width:400px;text-align:center;top:869.70px;letter-spacing:0.2px;">2.9</div>
<div class="t " style="left:270.25px;width:400px;text-align:center;top:869.70px;letter-spacing:0.2px;">3</div>
<div class="t " style="left:349.25px;width:400px;text-align:center;top:869.70px;letter-spacing:0.2px;">6</div>
<div class="t " style="left:424.60px;width:400px;text-align:center;top:869.70px;letter-spacing:0.2px;">4.6</div>
<div class="t " style="left:499.40px;width:400px;text-align:center;top:869.70px;letter-spacing:0.2px;">0.1</div>
<div class="t " style="left:90.00px;top:885.99px;">Aluminio (Al)</div>
<div class="t " style="left:40.85px;width:400px;text-align:center;top:886.99px;">ppm</div>
<div class="t " style="left:192.00px;width:400px;text-align:center;top:885.99px;letter-spacing:0.2px;">2.6</div>
<div class="t " style="left:270.25px;width:400px;text-align:center;top:885.99px;letter-spacing:0.2px;">0.5</div>
<div class="t " style="left:349.25px;width:400px;text-align:center;top:885.99px;letter-spacing:0.2px;">0.6</div>
<div class="t " style="left:424.60px;width:400px;text-align:center;top:885.99px;letter-spacing:0.2px;">1.5</div>
<div class="t " style="left:499.40px;width:400px;text-align:center;top:885.99px;letter-spacing:0.2px;">0.1</div>
<div class="t " style="left:90.00px;top:902.28px;">Estaño (Sn)</div>
<div class="t " style="left:40.85px;width:400px;text-align:center;top:903.28px;">ppm</div>
<div class="t " style="left:192.00px;width:400px;text-align:center;top:902.28px;letter-spacing:0.2px;">25.5</div>
<div class="t " style="left:270.25px;width:400px;text-align:center;top:902.28px;letter-spacing:0.2px;">18.3</div>
<div class="t " style="left:349.25px;width:400px;text-align:center;top:902.28px;letter-spacing:0.2px;">27.8</div>
<div class="t " style="left:424.60px;width:400px;text-align:center;top:902.28px;letter-spacing:0.2px;">33.5</div>
<div class="t " style="left:499.40px;width:400px;text-align:center;top:902.28px;letter-spacing:0.2px;">2.9</div>
<div class="t " style="left:90.00px;top:918.57px;">Plata (Ag)</div>
<div class="t " style="left:40.85px;width:400px;text-align:center;top:919.57px;">ppm</div>
<div class="t " style="left:192.00px;width:400px;text-align:center;top:918.57px;letter-spacing:0.2px;">0.1</div>
<div class="t " style="left:270.25px;width:400px;text-align:center;top:918.57px;letter-spacing:0.2px;">0.1</div>
<div class="t " style="left:349.25px;width:400px;text-align:center;top:918.57px;letter-spacing:0.2px;">0.1</div>
<div class="t " style="left:424.60px;width:400px;text-align:center;top:918.57px;letter-spacing:0.2px;">0.1</div>
<div class="t " style="left:499.40px;width:400px;text-align:center;top:918.57px;letter-spacing:0.2px;">0.1</div>
<div class="t " style="left:90.00px;top:934.85px;">Cromo (Cr)</div>
<div class="t " style="left:40.85px;width:400px;text-align:center;top:935.85px;">ppm</div>
<div class="t " style="left:192.00px;width:400px;text-align:center;top:934.85px;letter-spacing:0.2px;">0.1</div>
<div class="t " style="left:270.25px;width:400px;text-align:center;top:934.85px;letter-spacing:0.2px;">0.1</div>
<div class="t " style="left:349.25px;width:400px;text-align:center;top:934.85px;letter-spacing:0.2px;">0.1</div>
<div class="t " style="left:424.60px;width:400px;text-align:center;top:934.85px;letter-spacing:0.2px;">0.1</div>
<div class="t " style="left:499.40px;width:400px;text-align:center;top:934.85px;letter-spacing:0.2px;">0.1</div>
<div class="t " style="left:90.00px;top:951.14px;">Níquel (Ni)</div>
<div class="t " style="left:40.85px;width:400px;text-align:center;top:952.14px;">ppm</div>
<div class="t " style="left:192.00px;width:400px;text-align:center;top:951.14px;letter-spacing:0.2px;">0.1</div>
<div class="t " style="left:270.25px;width:400px;text-align:center;top:951.14px;letter-spacing:0.2px;">0.1</div>
<div class="t " style="left:349.25px;width:400px;text-align:center;top:951.14px;letter-spacing:0.2px;">0.1</div>
<div class="t " style="left:424.60px;width:400px;text-align:center;top:951.14px;letter-spacing:0.2px;">0.1</div>
<div class="t " style="left:499.40px;width:400px;text-align:center;top:951.14px;letter-spacing:0.2px;">0.1</div>
<div class="t " style="left:90.00px;top:967.43px;">Titanio (Ti)</div>
<div class="t " style="left:40.85px;width:400px;text-align:center;top:968.43px;">ppm</div>
<div class="t " style="left:192.00px;width:400px;text-align:center;top:967.43px;letter-spacing:0.2px;">0.1</div>
<div class="t " style="left:270.25px;width:400px;text-align:center;top:967.43px;letter-spacing:0.2px;">0.1</div>
<div class="t " style="left:349.25px;width:400px;text-align:center;top:967.43px;letter-spacing:0.2px;">0.1</div>
<div class="t " style="left:424.60px;width:400px;text-align:center;top:967.43px;letter-spacing:0.2px;">0.1</div>
<div class="t " style="left:499.40px;width:400px;text-align:center;top:967.43px;letter-spacing:0.2px;">0.1</div>
<div class="t " style="left:90.00px;top:983.71px;">Bario (Ba)</div>
<div class="t " style="left:40.85px;width:400px;text-align:center;top:984.71px;">ppm</div>
<div class="t " style="left:90.00px;top:1000.00px;">Cadmio (Cd)</div>
<div class="t " style="left:40.85px;width:400px;text-align:center;top:1001.00px;">ppm</div>
<div class="t " style="left:90.00px;top:1016.29px;">Manganeso (Mn)</div>
<div class="t " style="left:40.85px;width:400px;text-align:center;top:1017.29px;">ppm</div>
<div class="t " style="left:90.00px;top:1032.57px;">Silicio (Si)</div>
<div class="t " style="left:40.85px;width:400px;text-align:center;top:1033.57px;">ppm</div>
<div class="t " style="left:192.00px;width:400px;text-align:center;top:1032.57px;letter-spacing:0.2px;">21</div>
<div class="t " style="left:270.25px;width:400px;text-align:center;top:1032.57px;letter-spacing:0.2px;">14.1</div>
<div class="t " style="left:349.25px;width:400px;text-align:center;top:1032.57px;letter-spacing:0.2px;">11.2</div>
<div class="t " style="left:424.60px;width:400px;text-align:center;top:1032.57px;letter-spacing:0.2px;">20.4</div>
<div class="t " style="left:499.40px;width:400px;text-align:center;top:1032.57px;letter-spacing:0.2px;">13.3</div>
<div class="t " style="left:574.30px;width:400px;text-align:center;top:1032.57px;">Max     30.00</div>
<div class="t " style="left:90.00px;top:1048.86px;">Sodio (Na)</div>
<div class="t " style="left:40.85px;width:400px;text-align:center;top:1049.86px;">ppm</div>
<div class="t " style="left:192.00px;width:400px;text-align:center;top:1048.86px;letter-spacing:0.2px;">1.5</div>
<div class="t " style="left:270.25px;width:400px;text-align:center;top:1048.86px;letter-spacing:0.2px;">0.1</div>
<div class="t " style="left:349.25px;width:400px;text-align:center;top:1048.86px;letter-spacing:0.2px;">0.1</div>
<div class="t " style="left:424.60px;width:400px;text-align:center;top:1048.86px;letter-spacing:0.2px;">0.5</div>
<div class="t " style="left:499.40px;width:400px;text-align:center;top:1048.86px;letter-spacing:0.2px;">0.9</div>
<div class="t " style="left:90.00px;top:1065.15px;">Potasio (K)</div>
<div class="t " style="left:40.85px;width:400px;text-align:center;top:1066.15px;">ppm</div>
<div class="t " style="left:192.00px;width:400px;text-align:center;top:1065.15px;letter-spacing:0.2px;">0.9</div>
<div class="t " style="left:270.25px;width:400px;text-align:center;top:1065.15px;letter-spacing:0.2px;">0.6</div>
<div class="t " style="left:349.25px;width:400px;text-align:center;top:1065.15px;letter-spacing:0.2px;">0.6</div>
<div class="t " style="left:424.60px;width:400px;text-align:center;top:1065.15px;letter-spacing:0.2px;">0.9</div>
<div class="t " style="left:499.40px;width:400px;text-align:center;top:1065.15px;letter-spacing:0.2px;">0.1</div>
<div class="t " style="left:90.00px;top:1081.43px;">Vanadio (V)</div>
<div class="t " style="left:40.85px;width:400px;text-align:center;top:1082.43px;">ppm</div>
<div class="t " style="left:192.00px;width:400px;text-align:center;top:1081.43px;letter-spacing:0.2px;">0.1</div>
<div class="t " style="left:270.25px;width:400px;text-align:center;top:1081.43px;letter-spacing:0.2px;">0.1</div>
<div class="t " style="left:349.25px;width:400px;text-align:center;top:1081.43px;letter-spacing:0.2px;">0.1</div>
<div class="t " style="left:424.60px;width:400px;text-align:center;top:1081.43px;letter-spacing:0.2px;">0.1</div>
<div class="t " style="left:499.40px;width:400px;text-align:center;top:1081.43px;letter-spacing:0.2px;">0.1</div>
<div class="t " style="left:90.00px;top:1097.72px;">Molibdeno (Mo)</div>
<div class="t " style="left:40.85px;width:400px;text-align:center;top:1098.72px;">ppm</div>
<div class="t " style="left:192.00px;width:400px;text-align:center;top:1097.72px;letter-spacing:0.2px;">0.1</div>
<div class="t " style="left:270.25px;width:400px;text-align:center;top:1097.72px;letter-spacing:0.2px;">0.1</div>
<div class="t " style="left:349.25px;width:400px;text-align:center;top:1097.72px;letter-spacing:0.2px;">0.1</div>
<div class="t " style="left:424.60px;width:400px;text-align:center;top:1097.72px;letter-spacing:0.2px;">0.1</div>
<div class="t " style="left:499.40px;width:400px;text-align:center;top:1097.72px;letter-spacing:0.2px;">0.1</div>
<div class="t " style="left:90.00px;top:1114.01px;">Boro (B)</div>
<div class="t " style="left:40.85px;width:400px;text-align:center;top:1115.01px;">ppm</div>
<div class="t " style="left:192.00px;width:400px;text-align:center;top:1114.01px;letter-spacing:0.2px;">0.2</div>
<div class="t " style="left:270.25px;width:400px;text-align:center;top:1114.01px;letter-spacing:0.2px;">0.8</div>
<div class="t " style="left:349.25px;width:400px;text-align:center;top:1114.01px;letter-spacing:0.2px;">0.1</div>
<div class="t " style="left:424.60px;width:400px;text-align:center;top:1114.01px;letter-spacing:0.2px;">0.1</div>
<div class="t " style="left:499.40px;width:400px;text-align:center;top:1114.01px;letter-spacing:0.2px;">0.1</div>
<div class="t " style="left:90.00px;top:1130.30px;">Magnesio (Mg)</div>
<div class="t " style="left:40.85px;width:400px;text-align:center;top:1131.30px;">ppm</div>
<div class="t " style="left:90.00px;top:1146.58px;">Calcio (Ca)</div>
<div class="t " style="left:40.85px;width:400px;text-align:center;top:1147.58px;">ppm</div>
<div class="t " style="left:192.00px;width:400px;text-align:center;top:1146.58px;letter-spacing:0.2px;">38</div>
<div class="t " style="left:349.25px;width:400px;text-align:center;top:1146.58px;letter-spacing:0.2px;">15</div>
<div class="t " style="left:424.60px;width:400px;text-align:center;top:1146.58px;letter-spacing:0.2px;">15</div>
<div class="t " style="left:90.00px;top:1162.87px;">Fósforo (P)</div>
<div class="t " style="left:40.85px;width:400px;text-align:center;top:1163.87px;">ppm</div>
<div class="t " style="left:192.00px;width:400px;text-align:center;top:1162.87px;letter-spacing:0.2px;">405</div>
<div class="t " style="left:270.25px;width:400px;text-align:center;top:1162.87px;letter-spacing:0.2px;">282</div>
<div class="t " style="left:349.25px;width:400px;text-align:center;top:1162.87px;letter-spacing:0.2px;">290</div>
<div class="t " style="left:424.60px;width:400px;text-align:center;top:1162.87px;letter-spacing:0.2px;">339</div>
<div class="t " style="left:499.40px;width:400px;text-align:center;top:1162.87px;letter-spacing:0.2px;">462</div>
<div class="t " style="left:90.00px;top:1179.16px;">Cinc (Zn)</div>
<div class="t " style="left:40.85px;width:400px;text-align:center;top:1180.16px;">ppm</div>
<div class="t " style="left:120.85px;width:400px;text-align:center;top:1007.90px;">ASTM D5185</div>
<div class="t " style="left:90.00px;top:1211.43px;">Partículas &gt; 4</div>
<div class="t " style="left:40.85px;width:400px;text-align:center;top:1212.43px;">µm</div>
<div class="t " style="left:90.00px;top:1227.52px;">Partículas &gt; 6</div>
<div class="t " style="left:40.85px;width:400px;text-align:center;top:1228.52px;">µm</div>
<div class="t " style="left:90.00px;top:1243.61px;">Partículas &gt; 14</div>
<div class="t " style="left:40.85px;width:400px;text-align:center;top:1244.61px;">µm</div>
<div class="t " style="left:90.00px;top:1259.69px;">Partículas &gt; 25</div>
<div class="t " style="left:40.85px;width:400px;text-align:center;top:1260.69px;">µm</div>
<div class="t " style="left:90.00px;top:1275.78px;">Partículas &gt; 50</div>
<div class="t " style="left:40.85px;width:400px;text-align:center;top:1276.78px;">µm</div>
<div class="t " style="left:90.00px;top:1291.87px;">Partículas &gt; 100</div>
<div class="t " style="left:40.85px;width:400px;text-align:center;top:1292.87px;">µm</div>
<div class="t " style="left:90.00px;top:1307.96px;">Código ISO 4406</div>
<div class="t " style="left:119.85px;width:400px;text-align:center;top:1259.40px;">ISO 4406</div>
<div class="t w" style="left:756.30px;width:400px;text-align:center;top:593.00px;letter-spacing:-0.12px;">Gráficos de tendencia</div>
<svg style="left:0;top:0" width="1200" height="1553" viewBox="0 0 1200 1553" font-family="Liberation Sans, sans-serif"><text x="962.8" y="627.2" font-size="9" text-anchor="middle" fill="#484848" stroke="#484848" stroke-width="0.25" textLength="43" lengthAdjust="spacingAndGlyphs">Viscosidad</text><path d="M886.5 640.3H1031.9" stroke="#d3d3d3" stroke-width="1" fill="none"/><text x="881.5" y="643.1" font-size="7.6" text-anchor="end" fill="#484848" stroke="#484848" stroke-width="0.25">1070</text><path d="M886.5 649.4H1031.9" stroke="#d3d3d3" stroke-width="1" fill="none"/><text x="881.5" y="652.2" font-size="7.6" text-anchor="end" fill="#484848" stroke="#484848" stroke-width="0.25">1050</text><path d="M886.5 658.6H1031.9" stroke="#d3d3d3" stroke-width="1" fill="none"/><text x="881.5" y="661.4" font-size="7.6" text-anchor="end" fill="#484848" stroke="#484848" stroke-width="0.25">1030</text><path d="M886.5 667.7H1031.9" stroke="#d3d3d3" stroke-width="1" fill="none"/><text x="881.5" y="670.5" font-size="7.6" text-anchor="end" fill="#484848" stroke="#484848" stroke-width="0.25">1010</text><path d="M886.5 676.8H1031.9" stroke="#d3d3d3" stroke-width="1" fill="none"/><text x="881.5" y="679.6" font-size="7.6" text-anchor="end" fill="#484848" stroke="#484848" stroke-width="0.25">990</text><path d="M886.5 685.9H1031.9" stroke="#d3d3d3" stroke-width="1" fill="none"/><text x="881.5" y="688.7" font-size="7.6" text-anchor="end" fill="#484848" stroke="#484848" stroke-width="0.25">970</text><path d="M886.5 695.1H1031.9" stroke="#d3d3d3" stroke-width="1" fill="none"/><text x="881.5" y="697.9" font-size="7.6" text-anchor="end" fill="#484848" stroke="#484848" stroke-width="0.25">950</text><path d="M901.0 658.6 L930.1 679.2 L959.2 654.5 L988.3 649.4 L1017.4 652.6" stroke="#4472c4" stroke-width="3.5" fill="none" stroke-linejoin="round" stroke-linecap="round"/><circle cx="901.0" cy="658.6" r="3.3" fill="#4472c4"/><circle cx="930.1" cy="679.2" r="3.3" fill="#4472c4"/><circle cx="959.2" cy="654.5" r="3.3" fill="#4472c4"/><circle cx="988.3" cy="649.4" r="3.3" fill="#4472c4"/><circle cx="1017.4" cy="652.6" r="3.3" fill="#4472c4"/><text x="901.0" y="708.4" font-size="7.6" text-anchor="middle" fill="#484848" stroke="#484848" stroke-width="0.25">1</text><text x="930.1" y="708.4" font-size="7.6" text-anchor="middle" fill="#484848" stroke="#484848" stroke-width="0.25">2</text><text x="959.2" y="708.4" font-size="7.6" text-anchor="middle" fill="#484848" stroke="#484848" stroke-width="0.25">3</text><text x="988.3" y="708.4" font-size="7.6" text-anchor="middle" fill="#484848" stroke="#484848" stroke-width="0.25">4</text><text x="1017.4" y="708.4" font-size="7.6" text-anchor="middle" fill="#484848" stroke="#484848" stroke-width="0.25">5</text><path d="M916.4 722.7H939.0" stroke="#4472c4" stroke-width="2.4" fill="none" stroke-linecap="butt"/><circle cx="927.7" cy="722.7" r="2.2" fill="#4472c4"/><text x="941.3" y="725.5" font-size="7.8" text-anchor="start" fill="#484848" stroke="#484848" stroke-width="0.25" textLength="14" lengthAdjust="spacingAndGlyphs">40°C</text><path d="M974.0 722.7H996.6" stroke="#ed7d31" stroke-width="2.2" fill="none" stroke-linecap="butt"/><circle cx="985.3" cy="722.7" r="2.2" fill="#ed7d31"/><text x="997.6" y="725.5" font-size="7.8" text-anchor="start" fill="#484848" stroke="#484848" stroke-width="0.25" textLength="20" lengthAdjust="spacingAndGlyphs">100°C</text><text x="958.8" y="788.0" font-size="9" text-anchor="middle" fill="#484848" stroke="#484848" stroke-width="0.25" textLength="91" lengthAdjust="spacingAndGlyphs">PQ VS HIERRO Y COBRE</text><path d="M885.3 799.2H1030.7" stroke="#d3d3d3" stroke-width="1" fill="none"/><text x="880.5" y="802.0" font-size="7.6" text-anchor="end" fill="#484848" stroke="#484848" stroke-width="0.25">350</text><path d="M885.3 807.5H1030.7" stroke="#d3d3d3" stroke-width="1" fill="none"/><text x="880.5" y="810.3" font-size="7.6" text-anchor="end" fill="#484848" stroke="#484848" stroke-width="0.25">300</text><path d="M885.3 815.8H1030.7" stroke="#d3d3d3" stroke-width="1" fill="none"/><text x="880.5" y="818.6" font-size="7.6" text-anchor="end" fill="#484848" stroke="#484848" stroke-width="0.25">250</text><path d="M885.3 824.1H1030.7" stroke="#d3d3d3" stroke-width="1" fill="none"/><text x="880.5" y="826.9" font-size="7.6" text-anchor="end" fill="#484848" stroke="#484848" stroke-width="0.25">200</text><path d="M885.3 832.4H1030.7" stroke="#d3d3d3" stroke-width="1" fill="none"/><text x="880.5" y="835.2" font-size="7.6" text-anchor="end" fill="#484848" stroke="#484848" stroke-width="0.25">150</text><path d="M885.3 840.7H1030.7" stroke="#d3d3d3" stroke-width="1" fill="none"/><text x="880.5" y="843.5" font-size="7.6" text-anchor="end" fill="#484848" stroke="#484848" stroke-width="0.25">100</text><path d="M885.3 849.0H1030.7" stroke="#d3d3d3" stroke-width="1" fill="none"/><text x="880.5" y="851.8" font-size="7.6" text-anchor="end" fill="#484848" stroke="#484848" stroke-width="0.25">50</text><path d="M885.3 857.3H1030.7" stroke="#d3d3d3" stroke-width="1" fill="none"/><text x="880.5" y="860.1" font-size="7.6" text-anchor="end" fill="#484848" stroke="#484848" stroke-width="0.25">0</text><rect x="893.4" y="852.5" width="12.8" height="4.8" fill="#4472c4"/><rect x="922.5" y="848.8" width="12.8" height="8.5" fill="#4472c4"/><rect x="951.6" y="848.2" width="12.8" height="9.1" fill="#4472c4"/><rect x="980.7" y="848.0" width="12.8" height="9.3" fill="#4472c4"/><rect x="1009.8" y="854.0" width="12.8" height="3.3" fill="#4472c4"/><path d="M899.8 819.1 L928.9 829.1 L958.0 818.9 L987.1 808.4 L1016.2 853.3" stroke="#a5a5a5" stroke-width="3.7" fill="none" stroke-linejoin="round" stroke-linecap="round"/><circle cx="899.8" cy="819.1" r="3.2" fill="#a5a5a5"/><circle cx="928.9" cy="829.1" r="3.2" fill="#a5a5a5"/><circle cx="958.0" cy="818.9" r="3.2" fill="#a5a5a5"/><circle cx="987.1" cy="808.4" r="3.2" fill="#a5a5a5"/><circle cx="1016.2" cy="853.3" r="3.2" fill="#a5a5a5"/><path d="M899.8 850.8 L928.9 851.7 L958.0 848.3 L987.1 848.8 L1016.2 855.6" stroke="#ed7d31" stroke-width="3.0" fill="none" stroke-linejoin="round" stroke-linecap="round"/><circle cx="899.8" cy="850.8" r="3.0" fill="#ed7d31"/><circle cx="928.9" cy="851.7" r="3.0" fill="#ed7d31"/><circle cx="958.0" cy="848.3" r="3.0" fill="#ed7d31"/><circle cx="987.1" cy="848.8" r="3.0" fill="#ed7d31"/><circle cx="1016.2" cy="855.6" r="3.0" fill="#ed7d31"/><text x="899.8" y="871.3" font-size="7.6" text-anchor="middle" fill="#484848" stroke="#484848" stroke-width="0.25">1</text><text x="928.9" y="871.3" font-size="7.6" text-anchor="middle" fill="#484848" stroke="#484848" stroke-width="0.25">2</text><text x="958.0" y="871.3" font-size="7.6" text-anchor="middle" fill="#484848" stroke="#484848" stroke-width="0.25">3</text><text x="987.1" y="871.3" font-size="7.6" text-anchor="middle" fill="#484848" stroke="#484848" stroke-width="0.25">4</text><text x="1016.2" y="871.3" font-size="7.6" text-anchor="middle" fill="#484848" stroke="#484848" stroke-width="0.25">5</text><rect x="891.2" y="880.6" width="19.8" height="4.8" fill="#4472c4"/><text x="912.9" y="885.8" font-size="7.8" text-anchor="start" fill="#484848" stroke="#484848" stroke-width="0.25" textLength="9" lengthAdjust="spacingAndGlyphs">PQ</text><path d="M930.4 883.0H951.8" stroke="#ed7d31" stroke-width="3.6" fill="none" stroke-linecap="butt"/><circle cx="941.1" cy="883.0" r="2.2" fill="#ed7d31"/><text x="952.8" y="885.8" font-size="7.8" text-anchor="start" fill="#484848" stroke="#484848" stroke-width="0.25" textLength="21" lengthAdjust="spacingAndGlyphs">Hierro</text><path d="M983.3 883.0H1005.5" stroke="#a5a5a5" stroke-width="3.6" fill="none" stroke-linecap="butt"/><circle cx="994.4" cy="883.0" r="2.2" fill="#a5a5a5"/><text x="1006.9" y="885.8" font-size="7.8" text-anchor="start" fill="#484848" stroke="#484848" stroke-width="0.25" textLength="18.5" lengthAdjust="spacingAndGlyphs">Cobre</text><text x="962.0" y="968.8" font-size="9" text-anchor="middle" fill="#484848" stroke="#484848" stroke-width="0.25" textLength="82" lengthAdjust="spacingAndGlyphs">Desgaste de aleación</text><path d="M883.7 981.6H1041.7" stroke="#d3d3d3" stroke-width="1" fill="none"/><text x="878.5" y="984.4" font-size="7.6" text-anchor="end" fill="#484848" stroke="#484848" stroke-width="0.25">7</text><path d="M883.7 989.3H1041.7" stroke="#d3d3d3" stroke-width="1" fill="none"/><text x="878.5" y="992.1" font-size="7.6" text-anchor="end" fill="#484848" stroke="#484848" stroke-width="0.25">6</text><path d="M883.7 997.0H1041.7" stroke="#d3d3d3" stroke-width="1" fill="none"/><text x="878.5" y="999.8" font-size="7.6" text-anchor="end" fill="#484848" stroke="#484848" stroke-width="0.25">5</text><path d="M883.7 1004.7H1041.7" stroke="#d3d3d3" stroke-width="1" fill="none"/><text x="878.5" y="1007.5" font-size="7.6" text-anchor="end" fill="#484848" stroke="#484848" stroke-width="0.25">4</text><path d="M883.7 1012.5H1041.7" stroke="#d3d3d3" stroke-width="1" fill="none"/><text x="878.5" y="1015.3" font-size="7.6" text-anchor="end" fill="#484848" stroke="#484848" stroke-width="0.25">3</text><path d="M883.7 1020.2H1041.7" stroke="#d3d3d3" stroke-width="1" fill="none"/><text x="878.5" y="1023.0" font-size="7.6" text-anchor="end" fill="#484848" stroke="#484848" stroke-width="0.25">2</text><path d="M883.7 1027.9H1041.7" stroke="#d3d3d3" stroke-width="1" fill="none"/><text x="878.5" y="1030.7" font-size="7.6" text-anchor="end" fill="#484848" stroke="#484848" stroke-width="0.25">1</text><path d="M883.7 1035.6H1041.7" stroke="#d3d3d3" stroke-width="1" fill="none"/><text x="878.5" y="1038.4" font-size="7.6" text-anchor="end" fill="#484848" stroke="#484848" stroke-width="0.25">0</text><path d="M899.5 1013.2 L931.1 1012.5 L962.7 989.3 L994.3 1000.1 L1025.9 1034.8" stroke="#4472c4" stroke-width="3.8" fill="none" stroke-linejoin="round" stroke-linecap="round"/><circle cx="899.5" cy="1013.2" r="3.2" fill="#4472c4"/><circle cx="931.1" cy="1012.5" r="3.2" fill="#4472c4"/><circle cx="962.7" cy="989.3" r="3.2" fill="#4472c4"/><circle cx="994.3" cy="1000.1" r="3.2" fill="#4472c4"/><circle cx="1025.9" cy="1034.8" r="3.2" fill="#4472c4"/><path d="M899.5 1015.5 L931.1 1031.7 L962.7 1031.0 L994.3 1024.0 L1025.9 1034.8" stroke="#ed7d31" stroke-width="3.8" fill="none" stroke-linejoin="round" stroke-linecap="round"/><circle cx="899.5" cy="1015.5" r="3.2" fill="#ed7d31"/><circle cx="931.1" cy="1031.7" r="3.2" fill="#ed7d31"/><circle cx="962.7" cy="1031.0" r="3.2" fill="#ed7d31"/><circle cx="994.3" cy="1024.0" r="3.2" fill="#ed7d31"/><circle cx="1025.9" cy="1034.8" r="3.2" fill="#ed7d31"/><path d="M899.5 1034.8 L931.1 1034.8 L962.7 1034.8 L994.3 1034.8 L1025.9 1034.8" stroke="#a5a5a5" stroke-width="3.3" fill="none" stroke-linejoin="round" stroke-linecap="round"/><circle cx="899.5" cy="1034.8" r="3.0" fill="#a5a5a5"/><circle cx="931.1" cy="1034.8" r="3.0" fill="#a5a5a5"/><circle cx="962.7" cy="1034.8" r="3.0" fill="#a5a5a5"/><circle cx="994.3" cy="1034.8" r="3.0" fill="#a5a5a5"/><circle cx="1025.9" cy="1034.8" r="3.0" fill="#a5a5a5"/><path d="M899.5 1034.8 L931.1 1034.8 L962.7 1034.8 L994.3 1034.8 L1025.9 1034.8" stroke="#ffc000" stroke-width="3.8" fill="none" stroke-linejoin="round" stroke-linecap="round"/><circle cx="899.5" cy="1034.8" r="3.4" fill="#ffc000"/><circle cx="931.1" cy="1034.8" r="3.4" fill="#ffc000"/><circle cx="962.7" cy="1034.8" r="3.4" fill="#ffc000"/><circle cx="994.3" cy="1034.8" r="3.4" fill="#ffc000"/><circle cx="1025.9" cy="1034.8" r="3.4" fill="#ffc000"/><text x="900.8" y="1048.3" font-size="7.6" text-anchor="middle" fill="#484848" stroke="#484848" stroke-width="0.25">1</text><text x="930.8" y="1048.3" font-size="7.6" text-anchor="middle" fill="#484848" stroke="#484848" stroke-width="0.25">2</text><text x="960.8" y="1048.3" font-size="7.6" text-anchor="middle" fill="#484848" stroke="#484848" stroke-width="0.25">3</text><text x="989.4" y="1048.3" font-size="7.6" text-anchor="middle" fill="#484848" stroke="#484848" stroke-width="0.25">4</text><text x="1023.3" y="1048.3" font-size="7.6" text-anchor="middle" fill="#484848" stroke="#484848" stroke-width="0.25">5</text><path d="M887.3 1070.0H910.0" stroke="#4472c4" stroke-width="2.4" fill="none" stroke-linecap="butt"/><circle cx="898.6" cy="1070.0" r="2.2" fill="#4472c4"/><text x="910.6" y="1072.8" font-size="7.8" text-anchor="start" fill="#484848" stroke="#484848" stroke-width="0.25" textLength="7" lengthAdjust="spacingAndGlyphs">Pb</text><path d="M927.7 1070.0H950.3" stroke="#ed7d31" stroke-width="3.8" fill="none" stroke-linecap="butt"/><circle cx="939.0" cy="1070.0" r="2.2" fill="#ed7d31"/><text x="951.2" y="1072.8" font-size="7.8" text-anchor="start" fill="#484848" stroke="#484848" stroke-width="0.25" textLength="6" lengthAdjust="spacingAndGlyphs">Al</text><path d="M967.3 1070.0H988.9" stroke="#a5a5a5" stroke-width="3" fill="none" stroke-linecap="butt"/><circle cx="978.1" cy="1070.0" r="2.2" fill="#a5a5a5"/><text x="990.0" y="1072.8" font-size="7.8" text-anchor="start" fill="#484848" stroke="#484848" stroke-width="0.25" textLength="8" lengthAdjust="spacingAndGlyphs">Cr</text><path d="M1007.2 1070.0H1029.3" stroke="#ffc000" stroke-width="3" fill="none" stroke-linecap="butt"/><circle cx="1018.2" cy="1070.0" r="2.2" fill="#ffc000"/><text x="1030.0" y="1072.8" font-size="7.8" text-anchor="start" fill="#484848" stroke="#484848" stroke-width="0.25" textLength="6" lengthAdjust="spacingAndGlyphs">Ni</text><text x="964.2" y="1156.5" font-size="9" text-anchor="middle" fill="#484848" stroke="#484848" stroke-width="0.25" textLength="59.5" lengthAdjust="spacingAndGlyphs">Contaminación</text><path d="M894.3 1168.0H1039.0" stroke="#d3d3d3" stroke-width="1" fill="none"/><text x="888.5" y="1170.8" font-size="7.6" text-anchor="end" fill="#484848" stroke="#484848" stroke-width="0.25">25</text><path d="M894.3 1178.4H1039.0" stroke="#d3d3d3" stroke-width="1" fill="none"/><text x="888.5" y="1181.2" font-size="7.6" text-anchor="end" fill="#484848" stroke="#484848" stroke-width="0.25">20</text><path d="M894.3 1188.8H1039.0" stroke="#d3d3d3" stroke-width="1" fill="none"/><text x="888.5" y="1191.6" font-size="7.6" text-anchor="end" fill="#484848" stroke="#484848" stroke-width="0.25">15</text><path d="M894.3 1199.3H1039.0" stroke="#d3d3d3" stroke-width="1" fill="none"/><text x="888.5" y="1202.1" font-size="7.6" text-anchor="end" fill="#484848" stroke="#484848" stroke-width="0.25">10</text><path d="M894.3 1209.7H1039.0" stroke="#d3d3d3" stroke-width="1" fill="none"/><text x="888.5" y="1212.5" font-size="7.6" text-anchor="end" fill="#484848" stroke="#484848" stroke-width="0.25">5</text><path d="M894.3 1220.1H1039.0" stroke="#d3d3d3" stroke-width="1" fill="none"/><text x="888.5" y="1222.9" font-size="7.6" text-anchor="end" fill="#484848" stroke="#484848" stroke-width="0.25">0</text><path d="M908.8 1176.3 L937.7 1190.7 L966.6 1196.8 L995.6 1177.6 L1024.5 1192.4" stroke="#4472c4" stroke-width="4.4" fill="none" stroke-linejoin="round" stroke-linecap="round"/><circle cx="908.8" cy="1176.3" r="3.4" fill="#4472c4"/><circle cx="937.7" cy="1190.7" r="3.4" fill="#4472c4"/><circle cx="966.6" cy="1196.8" r="3.4" fill="#4472c4"/><circle cx="995.6" cy="1177.6" r="3.4" fill="#4472c4"/><circle cx="1024.5" cy="1192.4" r="3.4" fill="#4472c4"/><path d="M908.8 1217.0 L937.7 1219.9 L966.6 1219.9 L995.6 1219.1 L1024.5 1218.2" stroke="#ed7d31" stroke-width="3.3" fill="none" stroke-linejoin="round" stroke-linecap="round"/><circle cx="908.8" cy="1217.0" r="3.0" fill="#ed7d31"/><circle cx="937.7" cy="1219.9" r="3.0" fill="#ed7d31"/><circle cx="966.6" cy="1219.9" r="3.0" fill="#ed7d31"/><circle cx="995.6" cy="1219.1" r="3.0" fill="#ed7d31"/><circle cx="1024.5" cy="1218.2" r="3.0" fill="#ed7d31"/><path d="M908.8 1218.2 L937.7 1218.8 L966.6 1218.8 L995.6 1218.2 L1024.5 1219.9" stroke="#a5a5a5" stroke-width="3.3" fill="none" stroke-linejoin="round" stroke-linecap="round"/><circle cx="908.8" cy="1218.2" r="3.0" fill="#a5a5a5"/><circle cx="937.7" cy="1218.8" r="3.0" fill="#a5a5a5"/><circle cx="966.6" cy="1218.8" r="3.0" fill="#a5a5a5"/><circle cx="995.6" cy="1218.2" r="3.0" fill="#a5a5a5"/><circle cx="1024.5" cy="1219.9" r="3.0" fill="#a5a5a5"/><path d="M908.8 1219.9 L937.7 1219.9 L966.6 1219.9 L995.6 1219.9 L1024.5 1219.9" stroke="#ffc000" stroke-width="3.6" fill="none" stroke-linejoin="round" stroke-linecap="round"/><circle cx="908.8" cy="1219.9" r="3.5" fill="#ffc000"/><circle cx="937.7" cy="1219.9" r="3.5" fill="#ffc000"/><circle cx="966.6" cy="1219.9" r="3.5" fill="#ffc000"/><circle cx="995.6" cy="1219.9" r="3.5" fill="#ffc000"/><circle cx="1024.5" cy="1219.9" r="3.5" fill="#ffc000"/><text x="907.5" y="1236.5" font-size="7.6" text-anchor="middle" fill="#484848" stroke="#484848" stroke-width="0.25">1</text><text x="938.0" y="1236.5" font-size="7.6" text-anchor="middle" fill="#484848" stroke="#484848" stroke-width="0.25">2</text><text x="967.0" y="1236.5" font-size="7.6" text-anchor="middle" fill="#484848" stroke="#484848" stroke-width="0.25">3</text><text x="994.0" y="1236.5" font-size="7.6" text-anchor="middle" fill="#484848" stroke="#484848" stroke-width="0.25">4</text><text x="1026.0" y="1236.5" font-size="7.6" text-anchor="middle" fill="#484848" stroke="#484848" stroke-width="0.25">5</text><path d="M895.6 1252.5H918.5" stroke="#4472c4" stroke-width="4.2" fill="none" stroke-linecap="butt"/><circle cx="907.0" cy="1252.5" r="2.2" fill="#4472c4"/><text x="919.8" y="1255.3" font-size="7.8" text-anchor="start" fill="#484848" stroke="#484848" stroke-width="0.25" textLength="4" lengthAdjust="spacingAndGlyphs">Si</text><path d="M932.0 1252.5H955.6" stroke="#ed7d31" stroke-width="4.2" fill="none" stroke-linecap="butt"/><circle cx="943.8" cy="1252.5" r="2.2" fill="#ed7d31"/><text x="956.3" y="1255.3" font-size="7.8" text-anchor="start" fill="#484848" stroke="#484848" stroke-width="0.25" textLength="6.5" lengthAdjust="spacingAndGlyphs">Na</text><path d="M972.0 1252.5H994.1" stroke="#a5a5a5" stroke-width="4.0" fill="none" stroke-linecap="butt"/><circle cx="983.0" cy="1252.5" r="2.2" fill="#a5a5a5"/><text x="995.2" y="1255.3" font-size="7.8" text-anchor="start" fill="#484848" stroke="#484848" stroke-width="0.25">K</text><path d="M1007.2 1252.5H1029.9" stroke="#ffc000" stroke-width="4.0" fill="none" stroke-linecap="butt"/><circle cx="1018.6" cy="1252.5" r="2.2" fill="#ffc000"/><text x="1030.6" y="1255.3" font-size="7.8" text-anchor="start" fill="#484848" stroke="#484848" stroke-width="0.25">V</text></svg>
<div class="t" id="disc" style="left:73.5px;top:1336px;letter-spacing:0.235px;-webkit-text-stroke:0.34px #000;">Los resultados se relacionan sólo con la información y la muestra entregada por el cliente, quien asume la completa responsabilidad del correcto muestreo, aplicación de los resultados y/o recomendaciones entregadas por Copec.</div>
<svg style="left:0;top:0" width="1200" height="1553" viewBox="0 0 1200 1553" font-family="Liberation Sans, sans-serif"><text x="1052" y="1367.1" font-size="5.9" font-weight="bold" fill="#fff" text-anchor="end" textLength="119" lengthAdjust="spacingAndGlyphs">Laboratorios de Lubricantes Copec</text><text x="1052" y="1374.1" font-size="5.9" font-weight="bold" fill="#fff" text-anchor="end" textLength="232" lengthAdjust="spacingAndGlyphs">Laboratorio control calidad Quintero - Camino Costero s/n LT, Fono 32 2258500</text><text x="1052" y="1380.7" font-size="5.9" font-weight="bold" fill="#fff" text-anchor="end" textLength="323" lengthAdjust="spacingAndGlyphs">Laboratorio servicio técnico Antofagasta - Av. Pedro Aguirre Cerda 17902, Fono 55 2453 4027, Fono 9 98838849</text><text x="1052" y="1387.7" font-size="5.9" font-weight="bold" fill="#fff" text-anchor="end" textLength="286" lengthAdjust="spacingAndGlyphs">Laboratorio servicio técnico Quintero - Camino Costero s/n LT, Fono 32 2258 5000, Fono 9 98838842</text></svg>
</div></body></html>
